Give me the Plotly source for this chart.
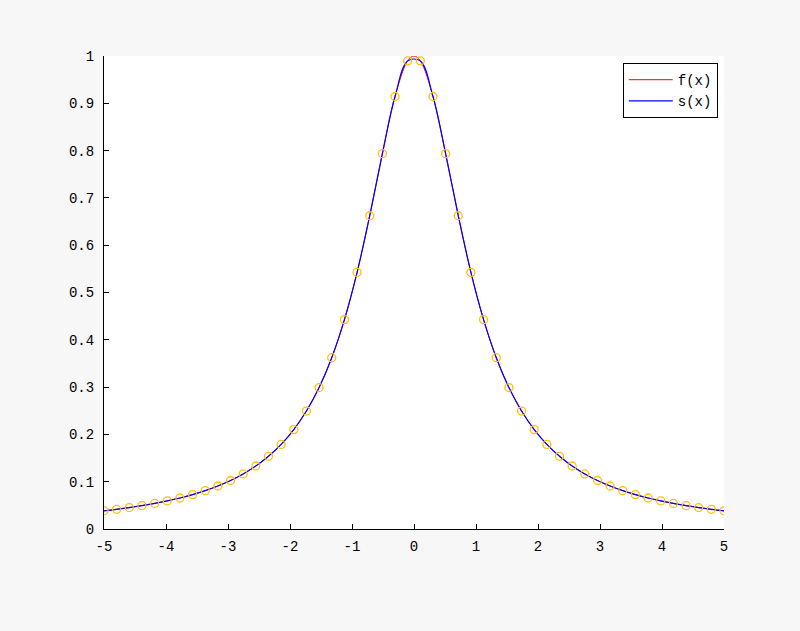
import plotly.graph_objects as go

# sample nodes (orange circles)
x_nodes = [-5.000, -4.796, -4.592, -4.388, -4.184, -3.980, -3.776, -3.571, -3.367, -3.163,
           -2.959, -2.755, -2.551, -2.347, -2.143, -1.939, -1.735, -1.531, -1.327, -1.122,
           -0.918, -0.714, -0.510, -0.306, -0.102,
           0.102, 0.306, 0.510, 0.714, 0.918, 1.122, 1.327, 1.531, 1.735, 1.939,
           2.143, 2.347, 2.551, 2.755, 2.959, 3.163, 3.367, 3.571, 3.776, 3.980,
           4.184, 4.388, 4.592, 4.796, 5.000]
y_nodes = [0.0385, 0.0417, 0.0453, 0.0494, 0.0540, 0.0594, 0.0655, 0.0727, 0.0811, 0.0909,
           0.1025, 0.1164, 0.1332, 0.1537, 0.1788, 0.2101, 0.2494, 0.2990, 0.3622, 0.4427,
           0.5426, 0.6623, 0.7936, 0.9144, 0.9897,
           0.9897, 0.9144, 0.7936, 0.6623, 0.5426, 0.4427, 0.3622, 0.2990, 0.2494, 0.2101,
           0.1788, 0.1537, 0.1332, 0.1164, 0.1025, 0.0909, 0.0811, 0.0727, 0.0655, 0.0594,
           0.0540, 0.0494, 0.0453, 0.0417, 0.0385]

# f(x) curve (red), peaks at 1 at x=0
x_f = x_nodes[:25] + [0.0] + x_nodes[25:]
y_f = y_nodes[:25] + [1.0] + y_nodes[25:]

x_ticks = [-5, -4, -3, -2, -1, 0, 1, 2, 3, 4, 5]
y_ticks = [0, 0.1, 0.2, 0.3, 0.4, 0.5, 0.6, 0.7, 0.8, 0.9, 1]

mono = "Liberation Mono, DejaVu Sans Mono, monospace"

fig = go.Figure()
fig.add_trace(go.Scatter(x=x_f, y=y_f, mode="lines", name="f(x)",
                         line=dict(color="#ff0000", width=1, shape="spline")))
fig.add_trace(go.Scatter(x=x_nodes, y=y_nodes, mode="lines", name="s(x)",
                         line=dict(color="#0000ff", width=1.2, shape="spline")))
fig.add_trace(go.Scatter(x=x_nodes, y=y_nodes, mode="markers", showlegend=False,
                         marker=dict(symbol="circle-open", size=8, color="#ffc000",
                                     line=dict(width=1.3, color="#ffc000"))))

fig.update_layout(
    width=800, height=631,
    paper_bgcolor="#f7f7f7", plot_bgcolor="#ffffff",
    margin=dict(l=104, r=76, t=56, b=102),
    font=dict(family=mono, size=14, color="#000000"),
    showlegend=True,
    legend=dict(x=0.99, y=0.985, xanchor="right", yanchor="top",
                bgcolor="#ffffff", bordercolor="#000000", borderwidth=1,
                font=dict(family=mono, size=14),
                itemwidth=44, tracegroupgap=2),
)
fig.update_xaxes(range=[-5, 5], tickvals=x_ticks, ticktext=[str(v) for v in x_ticks],
                 ticks="inside", ticklen=5, tickcolor="#000000", ticklabelstandoff=4,
                 showline=True, linecolor="#000000", linewidth=1,
                 showgrid=False, zeroline=False, mirror=False)
fig.update_yaxes(range=[0, 1], tickvals=y_ticks, ticktext=[("%g" % v) for v in y_ticks],
                 ticks="inside", ticklen=5, tickcolor="#000000", ticklabelstandoff=6,
                 showline=True, linecolor="#000000", linewidth=1,
                 showgrid=False, zeroline=False, mirror=False)

fig.write_html("out.html", config={"displayModeBar": False},
               post_script="document.body.style.margin='0';document.body.style.background='#f7f7f7';")
